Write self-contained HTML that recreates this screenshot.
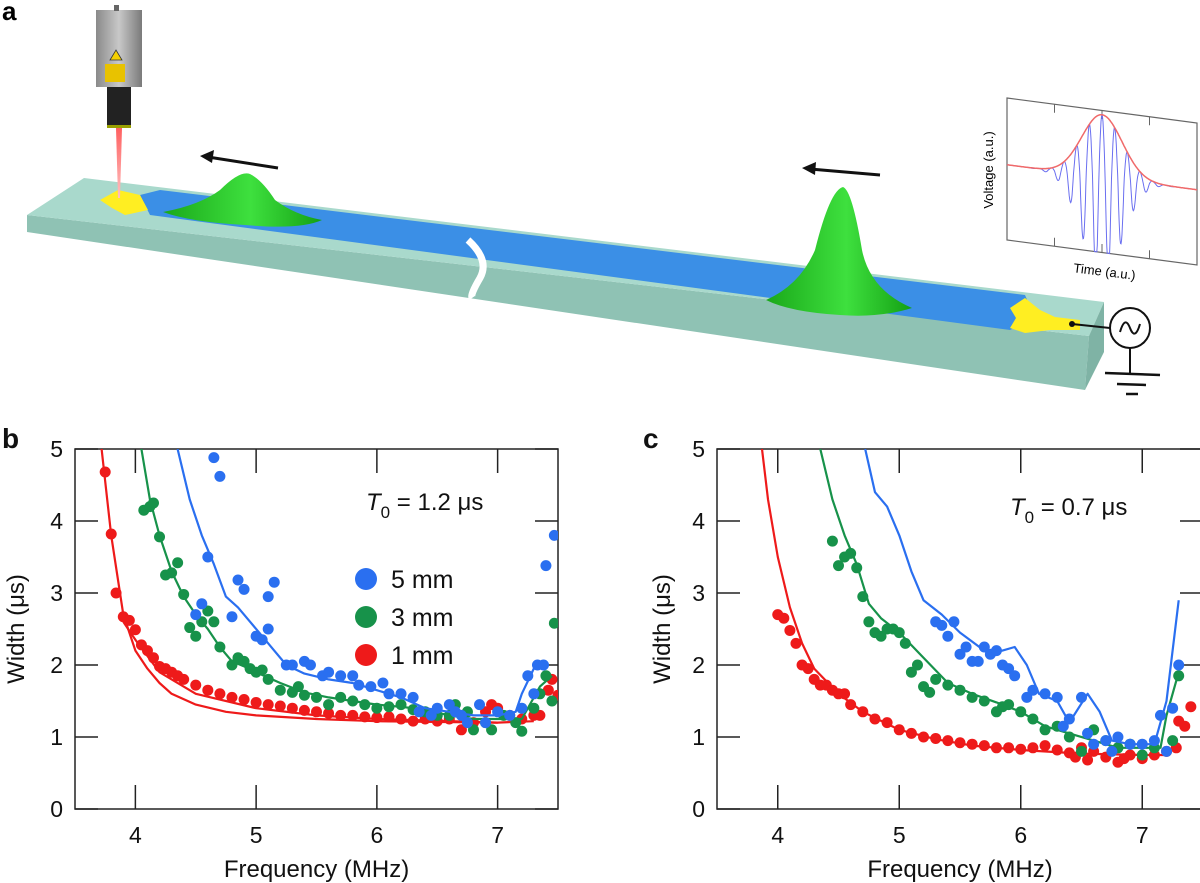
<!DOCTYPE html>
<html><head><meta charset="utf-8">
<style>
html,body{margin:0;padding:0;background:#fff;}
svg{display:block;font-family:"Liberation Sans",Arial,sans-serif;}
</style></head>
<body>
<svg id="fig" width="1200" height="883" viewBox="0 0 1200 883" xmlns="http://www.w3.org/2000/svg">
<defs>
<linearGradient id="gBump" x1="0" y1="0" x2="1" y2="0">
<stop offset="0" stop-color="#1aa81a"/><stop offset="0.55" stop-color="#3ee03e"/><stop offset="1" stop-color="#14a014"/>
</linearGradient>
<linearGradient id="gLaser" x1="0" y1="0" x2="1" y2="0">
<stop offset="0" stop-color="#8a8a8a"/><stop offset="0.5" stop-color="#c8c8c8"/><stop offset="1" stop-color="#7a7a7a"/>
</linearGradient>
<linearGradient id="gBeam" x1="0" y1="0" x2="0" y2="1">
<stop offset="0" stop-color="#ff6060"/><stop offset="1" stop-color="#ffc0c0"/>
</linearGradient>
</defs>

<!-- Panel a illustration -->
<g>
<text x="2" y="20" font-size="26" font-weight="bold">a</text>
<polygon points="27,215 1089,336 1085,390 27,232" fill="#8fc2b4"/>
<polygon points="27,215 84,178 1104,302 1089,336" fill="#a9d9cc"/>
<polygon points="1089,336 1104,302 1104,352 1085,390" fill="#7fb3a5"/>
<polygon points="140,195 160,190 1025,295 1035,318 1010,330 150,215" fill="#3b8fe6"/>
<polygon points="100,200 118,190 140,195 148,210 125,215 112,208" fill="#ffee22"/>
<polygon points="1010,308 1025,298 1040,310 1055,317 1080,320 1080,330 1050,330 1025,333 1010,328 1016,318" fill="#ffee22"/>
<path d="M468,240 Q490,260 480,278 Q470,295 472,298" stroke="#fff" stroke-width="7" fill="none"/>
<path d="M163,212 Q200,205 220,190 Q240,170 250,174 Q262,180 275,200 Q295,215 322,220 Q300,230 245,225 Q190,222 163,212 Z" fill="url(#gBump)"/>
<path d="M766,300 Q800,285 815,250 Q830,190 843,187 Q852,190 862,250 Q870,290 912,308 Q880,318 840,315 Q790,312 766,300 Z" fill="url(#gBump)"/>
<line x1="278" y1="168" x2="208" y2="157" stroke="#111" stroke-width="3"/>
<polygon points="200,156 214,150 212,163" fill="#111"/>
<line x1="880" y1="175" x2="810" y2="169" stroke="#111" stroke-width="3"/>
<polygon points="802,168 816,162 815,175" fill="#111"/>
<rect x="96" y="10" width="46" height="77" fill="url(#gLaser)"/>
<rect x="114" y="5" width="5" height="6" fill="#666"/>
<polygon points="110,60 116,50 122,60" fill="#f5d000" stroke="#333" stroke-width="0.8"/>
<rect x="105" y="64" width="20" height="18" fill="#e8c200"/>
<rect x="107" y="87" width="24" height="41" fill="#222"/>
<rect x="107" y="125" width="24" height="3" fill="#9aa000"/>
<polygon points="116,128 122,128 120,198 118,198" fill="url(#gBeam)"/>
<g id="inset">
<polygon points="1007,98 1197,123 1197,265 1007,240" fill="#fff" stroke="#666" stroke-width="1.2"/>
</g>
<text transform="translate(993,170) rotate(-90)" font-size="13" text-anchor="middle">Voltage (a.u.)</text>
<text transform="translate(1104,276) rotate(7)" font-size="13" text-anchor="middle">Time (a.u.)</text>
<circle cx="1072" cy="324" r="3" fill="#111"/>
<line x1="1072" y1="324" x2="1110" y2="328" stroke="#111" stroke-width="2"/>
<circle cx="1130" cy="328" r="20" fill="#fff" stroke="#111" stroke-width="2"/>
<path d="M1120,332 Q1125,315 1130,328 Q1135,341 1140,324" stroke="#111" stroke-width="2" fill="none"/>
<line x1="1130" y1="348" x2="1130" y2="373" stroke="#111" stroke-width="2"/>
<line x1="1105" y1="373" x2="1160" y2="375" stroke="#111" stroke-width="2.5"/>
<line x1="1117" y1="384" x2="1146" y2="385" stroke="#111" stroke-width="2.5"/>
<line x1="1126" y1="394" x2="1138" y2="394" stroke="#111" stroke-width="2.5"/>
</g>

<g id="panelB"></g>
<g id="panelC"></g>
</svg>

<script>
// ---------- Panel b data ----------
const bRedPtsF = [3.75,3.80,3.84,3.90,3.95,4.0,4.05,4.1,4.15,4.2,4.25,4.3,4.35,4.4,4.5,4.6,4.7,4.8,4.9,5.0,5.1,5.2,5.3,5.4,5.5,5.6,5.7,5.8,5.9,6.0,6.1,6.2,6.3,6.4,6.5,6.6,6.7,6.8,6.9,6.95,7.0,7.1,7.2,7.3,7.35,7.42,7.45,7.5];
const bRedPtsW = [4.68,3.82,3.0,2.67,2.62,2.49,2.28,2.2,2.1,1.98,1.95,1.9,1.85,1.8,1.72,1.65,1.6,1.55,1.52,1.48,1.45,1.43,1.4,1.37,1.35,1.33,1.3,1.3,1.28,1.27,1.28,1.25,1.22,1.25,1.22,1.25,1.1,1.2,1.35,1.45,1.4,1.3,1.25,1.3,1.3,1.65,1.8,1.58];
const bGreenPtsF = [4.07,4.12,4.15,4.2,4.25,4.3,4.35,4.4,4.45,4.5,4.55,4.6,4.65,4.7,4.8,4.85,4.9,4.95,5.0,5.05,5.1,5.2,5.3,5.35,5.4,5.5,5.6,5.7,5.8,5.9,6.0,6.1,6.2,6.3,6.4,6.5,6.6,6.65,6.75,6.8,6.9,6.95,7.05,7.15,7.2,7.3,7.35,7.4,7.45,7.47];
const bGreenPtsW = [4.15,4.2,4.25,3.78,3.25,3.28,3.42,2.98,2.52,2.4,2.6,2.75,2.6,2.25,2.0,2.1,2.05,1.95,1.9,1.93,1.8,1.65,1.62,1.7,1.58,1.55,1.45,1.55,1.5,1.45,1.4,1.42,1.45,1.38,1.35,1.3,1.3,1.45,1.35,1.1,1.2,1.1,1.3,1.2,1.08,1.4,1.6,1.85,1.5,2.58];
const bBluePtsF = [4.65,4.7,4.6,4.55,4.5,4.8,4.85,4.9,5.0,5.05,5.1,5.1,5.15,5.25,5.3,5.4,5.45,5.55,5.6,5.7,5.8,5.85,5.95,6.05,6.1,6.2,6.3,6.35,6.45,6.5,6.6,6.65,6.7,6.75,6.85,6.9,7.0,7.1,7.2,7.25,7.3,7.33,7.38,7.4,7.47];
const bBluePtsW = [4.88,4.62,3.5,2.85,2.7,2.67,3.18,3.05,2.4,2.35,2.5,2.95,3.15,2.0,2.0,2.05,2.0,1.85,1.9,1.85,1.85,1.72,1.7,1.75,1.6,1.6,1.55,1.35,1.3,1.4,1.45,1.35,1.3,1.2,1.45,1.2,1.35,1.3,1.4,1.85,1.6,2.0,2.0,3.38,3.8];
const bRedFitF = [3.72,3.8,3.9,4.0,4.1,4.2,4.3,4.5,4.75,5.0,5.5,6.0,7.0,7.3];
const bRedFitW = [5.0,3.8,2.7,2.2,1.95,1.75,1.6,1.45,1.35,1.3,1.25,1.22,1.2,1.22];
const bRedFit2F = [3.9,4.0,4.2,4.5,5.0,5.5,6.0,7.0];
const bRedFit2W = [2.6,2.35,1.9,1.6,1.4,1.3,1.25,1.2];
const bGreenFitF = [4.05,4.12,4.2,4.3,4.4,4.5,4.6,4.7,4.8,4.9,5.0,5.2,5.4,5.6,5.8,6.0,6.2,6.4,6.6,6.8,7.0,7.2,7.35,7.45];
const bGreenFitW = [5.0,4.3,3.8,3.3,2.95,2.7,2.5,2.25,2.05,1.98,1.9,1.75,1.62,1.55,1.5,1.45,1.42,1.38,1.3,1.25,1.25,1.25,1.7,1.85];
const bBlueFitF = [4.35,4.45,4.55,4.65,4.75,4.85,4.95,5.05,5.15,5.25,5.4,5.6,5.8,6.0,6.2,6.4,6.6,6.8,7.0,7.15,7.2,7.3,7.4];
const bBlueFitW = [5.0,4.3,3.8,3.4,2.95,2.8,2.6,2.4,2.2,2.0,1.88,1.8,1.75,1.65,1.55,1.4,1.35,1.3,1.3,1.35,1.6,1.95,2.0];
// ---------- Panel c data ----------
const cRedPtsF = [4.0,4.05,4.1,4.15,4.2,4.25,4.3,4.35,4.4,4.45,4.5,4.55,4.6,4.7,4.8,4.9,5.0,5.1,5.2,5.3,5.4,5.5,5.6,5.7,5.8,5.9,6.0,6.1,6.2,6.3,6.4,6.45,6.5,6.55,6.6,6.7,6.8,6.85,6.9,7.0,7.1,7.2,7.28,7.3,7.35,7.4];
const cRedPtsW = [2.7,2.65,2.48,2.3,2.0,1.95,1.8,1.72,1.72,1.65,1.6,1.6,1.45,1.35,1.25,1.2,1.1,1.05,1.0,0.98,0.95,0.92,0.9,0.88,0.85,0.85,0.83,0.85,0.88,0.82,0.78,0.72,0.85,0.68,0.8,0.72,0.65,0.7,0.75,0.7,0.75,0.8,0.85,1.22,1.15,1.42];
const cGreenPtsF = [4.45,4.5,4.55,4.6,4.65,4.7,4.75,4.8,4.85,4.9,4.95,5.0,5.05,5.1,5.15,5.2,5.25,5.3,5.4,5.5,5.6,5.7,5.8,5.85,5.9,6.0,6.1,6.2,6.3,6.4,6.5,6.6,6.7,6.8,6.9,7.0,7.1,7.25,7.3];
const cGreenPtsW = [3.72,3.38,3.5,3.55,3.35,2.95,2.6,2.45,2.4,2.5,2.5,2.45,2.3,1.9,2.0,1.7,1.62,1.8,1.72,1.65,1.55,1.5,1.35,1.42,1.45,1.35,1.25,1.1,1.15,1.0,0.8,1.1,0.95,0.85,0.9,0.75,0.85,0.95,1.85];
const cBluePtsF = [5.3,5.35,5.4,5.45,5.5,5.55,5.6,5.65,5.7,5.75,5.8,5.85,5.9,5.95,6.05,6.1,6.2,6.3,6.35,6.4,6.5,6.55,6.6,6.7,6.75,6.8,6.9,7.0,7.1,7.15,7.2,7.25,7.3];
const cBluePtsW = [2.6,2.55,2.4,2.6,2.15,2.25,2.05,2.05,2.25,2.15,2.2,2.0,1.95,1.85,1.55,1.65,1.6,1.55,1.15,1.25,1.55,1.05,0.9,0.95,0.8,1.0,0.9,0.9,0.95,1.3,0.8,1.4,2.0];
const cRedFitF = [3.87,3.92,4.0,4.1,4.2,4.3,4.5,4.7,5.0,5.3,5.6,6.0,6.5,7.0,7.2];
const cRedFitW = [5.0,4.3,3.5,2.8,2.3,1.95,1.6,1.35,1.1,0.97,0.88,0.82,0.77,0.75,0.75];
const cGreenFitF = [4.35,4.45,4.55,4.65,4.75,4.85,5.0,5.2,5.4,5.6,5.8,6.0,6.2,6.4,6.6,6.8,7.0,7.15,7.2,7.3];
const cGreenFitW = [5.0,4.3,3.8,3.4,2.85,2.65,2.45,2.1,1.75,1.6,1.48,1.35,1.15,1.05,0.95,0.85,0.85,0.85,1.3,1.9];
const cBlueFitF = [4.72,4.8,4.9,5.0,5.1,5.2,5.35,5.5,5.7,5.85,5.95,6.05,6.15,6.3,6.4,6.55,6.65,6.75,6.9,7.0,7.1,7.2,7.3];
const cBlueFitW = [5.0,4.4,4.2,3.8,3.3,2.9,2.7,2.45,2.2,2.2,2.25,2.0,1.6,1.5,1.2,1.6,1.35,0.95,0.9,0.9,0.9,1.5,2.9];
const xTicks = [4,5,6,7];
const yTicks = [0,1,2,3,4,5];
const legendLabels = ["5 mm","3 mm","1 mm"];

const NS = "http://www.w3.org/2000/svg";
const COL = {blue:"#2a6ff0", green:"#17924a", red:"#ee1a1a"};
function mk(parent, tag, attrs){
  const el = document.createElementNS(NS, tag);
  for (const k in attrs) el.setAttribute(k, attrs[k]);
  parent.appendChild(el);
  return el;
}
function makeAxes(left, right, top, bottom){
  const x0=3.5, x1=7.5, y0=0, y1=5;
  return {
    x: f => left + (f-x0)/(x1-x0)*(right-left),
    y: w => bottom - (w-y0)/(y1-y0)*(bottom-top),
    left, right, top, bottom
  };
}
function drawPanel(g, ax, series, clipId, opts){
  const cp = mk(g, "clipPath", {id: clipId});
  mk(cp, "rect", {x: ax.left, y: ax.top, width: ax.right-ax.left, height: ax.bottom-ax.top});
  const frame = mk(g, "rect", {x: ax.left, y: ax.top, width: ax.right-ax.left, height: ax.bottom-ax.top, fill:"none", stroke:"#222", "stroke-width":1.5});
  
  
  xTicks.forEach(t => {
    const X = ax.x(t);
    const tb = mk(g, "line", {x1:X, x2:X, y1:ax.bottom, y2:ax.bottom-24, stroke:"#222", "stroke-width":1.5});
    
    
    const tt = mk(g, "line", {x1:X, x2:X, y1:ax.top, y2:ax.top+24, stroke:"#222", "stroke-width":1.5});
    
    
    const lb = mk(g, "text", {x:X, y:ax.bottom+34, "font-size":23, "text-anchor":"middle", fill:"#111"});
    lb.textContent = t;
    
    
  });
  yTicks.forEach(t => {
    const Y = ax.y(t);
    const tl = mk(g, "line", {x1:ax.left, x2:ax.left+23, y1:Y, y2:Y, stroke:"#222", "stroke-width":1.5});
    
    
    const tr = mk(g, "line", {x1:ax.right, x2:ax.right-23, y1:Y, y2:Y, stroke:"#222", "stroke-width":1.5});
    
    
    const lb = mk(g, "text", {x:ax.left-12, y:Y+8, "font-size":23, "text-anchor":"end", fill:"#111"});
    lb.textContent = t;
    
    
  });
  const data = mk(g, "g", {"clip-path":"url(#"+clipId+")"});
  
  
  series.forEach(s => {
    s.fits.forEach(fit => {
      const d = fit[0].map((f,i) => (i?"L":"M")+ax.x(f).toFixed(1)+","+ax.y(fit[1][i]).toFixed(1)).join(" ");
      const p = mk(data, "path", {d, fill:"none", stroke:s.color, "stroke-width":2.2, "stroke-linejoin":"round"});
      
      
    });
    s.pf.forEach((f,i) => {
      const c = mk(data, "circle", {cx:ax.x(f), cy:ax.y(s.pw[i]), r:5.5, fill:s.color});
      
      
    });
  });
  const xt = mk(g, "text", {x:(ax.left+ax.right)/2, y:877, "font-size":24, "text-anchor":"middle", fill:"#111"});
  xt.textContent = "Frequency (MHz)";
  
  
  const yt = mk(g, "text", {transform:"translate("+opts.ytx+",629) rotate(-90)", "font-size":24, "text-anchor":"middle", fill:"#111"});
  yt.textContent = "Width (\u03bcs)";
  
  
  const pl = mk(g, "text", {x:opts.plx, y:448, "font-size":28, "font-weight":"bold", fill:"#111"});
  pl.textContent = opts.label;
  
  
  const t0 = mk(g, "text", {x:opts.t0x, y:opts.t0y, "font-size":24, fill:"#111"});
  t0.innerHTML = '<tspan font-style="italic">T</tspan><tspan font-size="17" dy="8">0</tspan><tspan dy="-8"> = '+opts.t0+' \u03bcs</tspan>';
  
  
}

const axB = makeAxes(75, 558, 449, 809);
const gB = document.getElementById("panelB");
drawPanel(gB, axB, [
  {name:"red-1mm", color:COL.red, pf:bRedPtsF, pw:bRedPtsW, fits:[[bRedFitF,bRedFitW],[bRedFit2F,bRedFit2W]]},
  {name:"green-3mm", color:COL.green, pf:bGreenPtsF, pw:bGreenPtsW, fits:[[bGreenFitF,bGreenFitW]]},
  {name:"blue-5mm", color:COL.blue, pf:bBluePtsF, pw:bBluePtsW, fits:[[bBlueFitF,bBlueFitW]]}
], "clipB", {ytx:24, plx:2, label:"b", t0x:366, t0y:510, t0:"1.2"});

// legend
const legColors = [COL.blue, COL.green, COL.red];
const legY = [579, 617, 655];
legendLabels.forEach((lab,i) => {
  const c = mk(gB, "circle", {cx:366, cy:legY[i], r:11, fill:legColors[i]});
  
  
  const t = mk(gB, "text", {x:391, y:legY[i]+9, "font-size":25, fill:"#111"});
  t.textContent = lab;
  
  
});

const axC = makeAxes(717, 1203, 449, 809);
const gC = document.getElementById("panelC");
drawPanel(gC, axC, [
  {name:"red-1mm", color:COL.red, pf:cRedPtsF, pw:cRedPtsW, fits:[[cRedFitF,cRedFitW]]},
  {name:"green-3mm", color:COL.green, pf:cGreenPtsF, pw:cGreenPtsW, fits:[[cGreenFitF,cGreenFitW]]},
  {name:"blue-5mm", color:COL.blue, pf:cBluePtsF, pw:cBluePtsW, fits:[[cBlueFitF,cBlueFitW]]}
], "clipC", {ytx:670, plx:643, label:"c", t0x:1010, t0y:515, t0:"0.7"});

// inset waveform (illustrative)
(function(){
  const g = document.getElementById("inset");
  const L=1007, R=1197, T=98, H=142, skew=25/190;
  const P = (u,v) => [L+u*(R-L), T+v*H + u*(R-L)*skew];
  [0.25,0.5,0.75].forEach(u=>{
    const a=P(u,0), b=P(u,0.06), c=P(u,1), d=P(u,0.94);
    const l1 = mk(g,"line",{x1:a[0],y1:a[1],x2:b[0],y2:b[1],stroke:"#666"});
    
    
    const l2 = mk(g,"line",{x1:c[0],y1:c[1],x2:d[0],y2:d[1],stroke:"#666"});
    
    
  });
  let wave="", env="";
  for(let i=0;i<=400;i++){
    const u=i/400, e=Math.exp(-Math.pow((u-0.5)/0.15,2));
    const base=0.47;
    const vw = base - 0.44*e*Math.cos((u-0.5)*2*Math.PI*15)*1 ;
    const ve = base - 0.44*e;
    const pw=P(u, Math.min(1,Math.max(0, vw>base? base+(vw-base)*1.6 : vw)));
    const pe=P(u,ve);
    wave+=(i?"L":"M")+pw[0].toFixed(1)+","+pw[1].toFixed(1);
    env+=(i?"L":"M")+pe[0].toFixed(1)+","+pe[1].toFixed(1);
  }
  const w = mk(g,"path",{d:wave,fill:"none",stroke:"#6a6ff0","stroke-width":1});
  
  
  const e = mk(g,"path",{d:env,fill:"none",stroke:"#f06a6a","stroke-width":1.5});
  
  
})();
</script>
</body></html>
